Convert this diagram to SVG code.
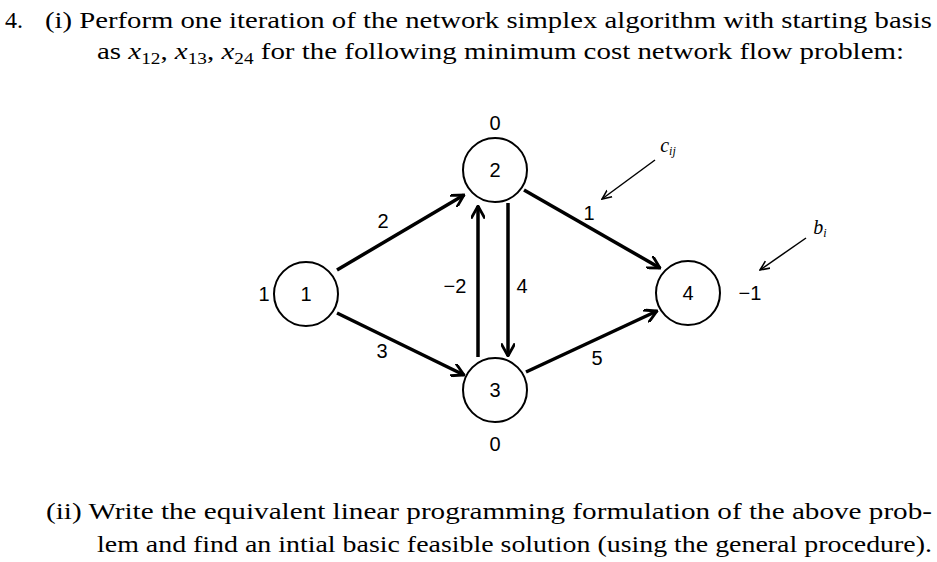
<svg xmlns="http://www.w3.org/2000/svg" width="937" height="562" viewBox="0 0 937 562">
<style>
.t{font-family:"Liberation Serif","Times New Roman",serif;font-size:24px;fill:#000}
.i{font-style:italic}
.n{fill:#fff;stroke:#000;stroke-width:2}
.l{font-family:"Liberation Sans",Arial,sans-serif;font-size:20px;fill:#000;text-anchor:middle}
.e{stroke:#000;stroke-width:3.5;fill:none;marker-end:url(#a)}
.p{stroke:#000;stroke-width:1.5;fill:none;marker-end:url(#s)}
</style>
<defs>
<marker id="a" viewBox="0 0 10 10" refX="9" refY="5" markerWidth="4" markerHeight="4" orient="auto" markerUnits="strokeWidth"><path d="M0,0 L9,5 L0,10" fill="none" stroke="#000" stroke-width="2"/></marker>
<marker id="s" viewBox="0 0 10 10" refX="9" refY="5" markerWidth="7" markerHeight="7" orient="auto" markerUnits="strokeWidth"><path d="M0,1 L9,5 L0,9" fill="none" stroke="#000" stroke-width="1.5"/></marker>
</defs>
<text class="t" x="5" y="28">4.</text>
<text class="t" x="45" y="28" textLength="887" lengthAdjust="spacingAndGlyphs">(i) Perform one iteration of the network simplex algorithm with starting basis</text>
<text class="t" x="97" y="59" textLength="807" lengthAdjust="spacingAndGlyphs">as <tspan class="i">x</tspan><tspan font-size="16" dy="5">12</tspan><tspan dy="-5">, </tspan><tspan class="i">x</tspan><tspan font-size="16" dy="5">13</tspan><tspan dy="-5">, </tspan><tspan class="i">x</tspan><tspan font-size="16" dy="5">24</tspan><tspan dy="-5"> for the following minimum cost network flow problem:</tspan></text>
<text class="t" x="46" y="519" textLength="886" lengthAdjust="spacingAndGlyphs">(ii) Write the equivalent linear programming formulation of the above prob-</text>
<text class="t" x="97" y="552" textLength="835" lengthAdjust="spacingAndGlyphs">lem and find an intial basic feasible solution (using the general procedure).</text>
<g id="connectors">
<line class="e" x1="337" y1="270" x2="464" y2="195"/>
<line class="e" x1="337" y1="313" x2="464" y2="375"/>
<line class="e" x1="478" y1="357" x2="478" y2="206"/>
<line class="e" x1="508" y1="203" x2="508" y2="356"/>
<line class="e" x1="524" y1="190" x2="660" y2="268"/>
<line class="e" x1="526" y1="372" x2="657" y2="311"/>
<line class="p" x1="655" y1="160" x2="602" y2="199"/>
<line class="p" x1="806" y1="238" x2="760" y2="270"/>
</g>
<g id="n1"><circle class="n" cx="306" cy="294" r="32"/><text class="l" x="306" y="301">1</text><text class="l" x="264" y="301">1</text></g>
<g id="n2"><circle class="n" cx="495" cy="170" r="32"/><text class="l" x="495" y="177">2</text><text class="l" x="495" y="130">0</text></g>
<g id="n3"><circle class="n" cx="495" cy="390" r="32"/><text class="l" x="495" y="397">3</text><text class="l" x="495" y="451">0</text></g>
<g id="n4"><circle class="n" cx="688" cy="293" r="32"/><text class="l" x="688" y="300">4</text><text class="l" x="750" y="300">−1</text></g>
<g id="labels">
<text class="l" x="383" y="228">2</text>
<text class="l" x="382" y="358">3</text>
<text class="l" x="455" y="293">−2</text>
<text class="l" x="522" y="293">4</text>
<text class="l" x="589" y="220">1</text>
<text class="l" x="597" y="365">5</text>
<text class="l" x="668" y="152" style="font-family:'Liberation Serif',serif;font-style:italic">c<tspan font-size="12" dy="3">ij</tspan></text>
<text class="l" x="820" y="234" style="font-family:'Liberation Serif',serif;font-style:italic">b<tspan font-size="12" dy="3">i</tspan></text>
</g>
</svg>
